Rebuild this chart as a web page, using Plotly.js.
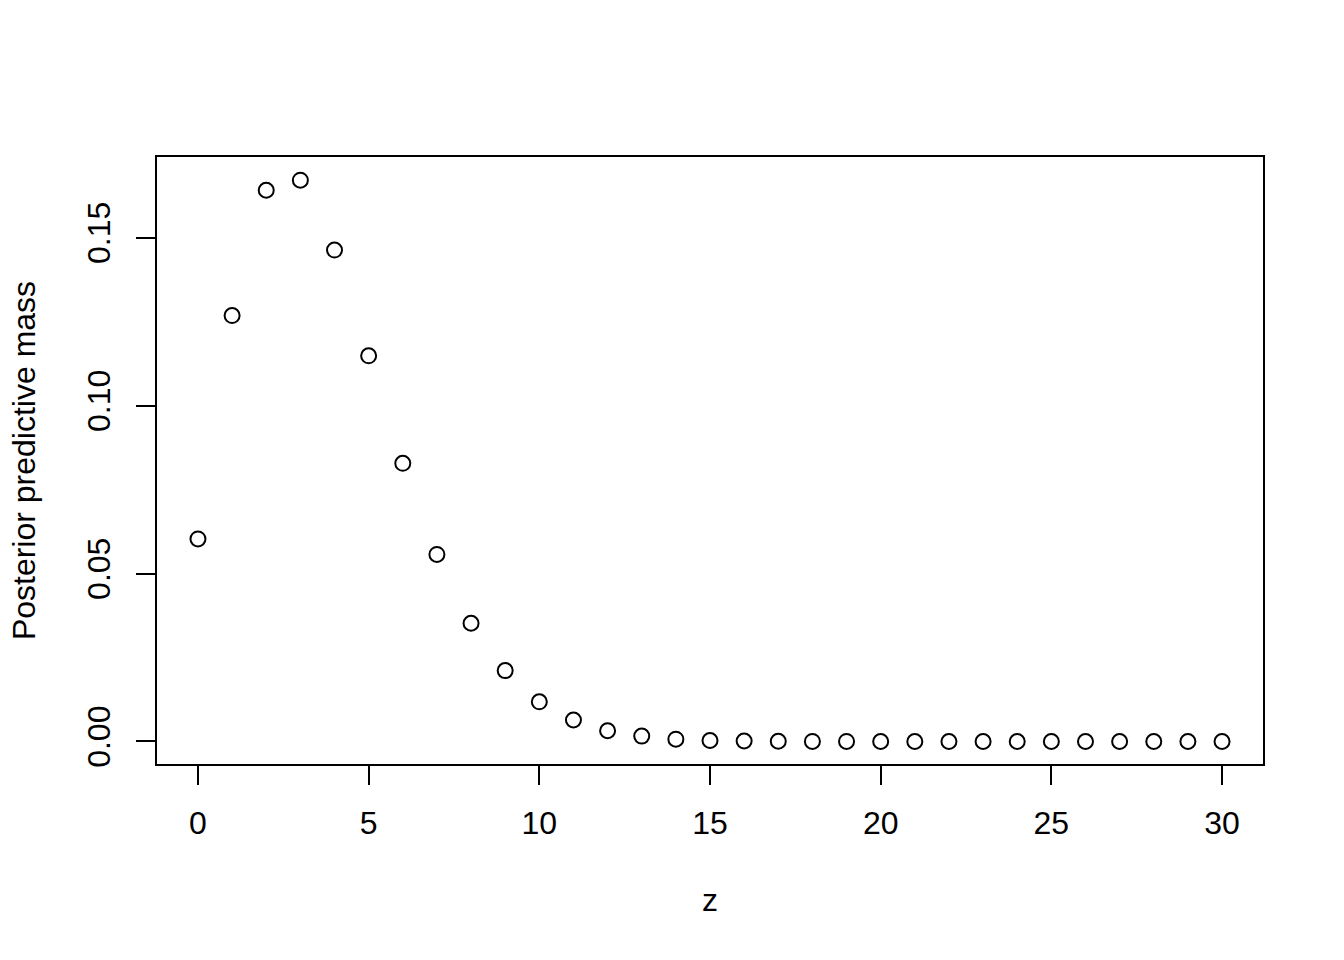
<!DOCTYPE html>
<html>
<head>
<meta charset="utf-8">
<script src="https://cdn.plot.ly/plotly-3.0.1.min.js"></script>
<style>
  html, body { margin: 0; padding: 0; background: #fff; }
  #plot { width: 1344px; height: 960px; }
</style>
</head>
<body>
<div id="plot"></div>
<script>
// values
const z = [0, 1, 2, 3, 4, 5, 6, 7, 8, 9, 10, 11, 12, 13, 14, 15,
           16, 17, 18, 19, 20, 21, 22, 23, 24, 25, 26, 27, 28, 29, 30];
const mass = [0.0603, 0.1268, 0.1641, 0.1671, 0.1463, 0.1148, 0.0828, 0.0557,
              0.0352, 0.0211, 0.0118, 0.0064, 0.0032, 0.0016, 0.0007, 0.0003,
              0.00015, 0.00007, 0.00003, 0.00001, 0.000005, 0.000002, 0.000001, 0, 0,
              0, 0, 0, 0, 0, 0];
const xTicks = [0, 5, 10, 15, 20, 25, 30];
const yTicks = [0, 0.05, 0.10, 0.15];

const font = {family: 'Liberation Sans, Arial, sans-serif', size: 32, color: '#000'};

Plotly.newPlot('plot', [{
  x: z, y: mass, type: 'scatter', mode: 'markers',
  marker: {symbol: 'circle-open', size: 15, color: '#000', line: {width: 2, color: '#000'}}
}], {
  width: 1344, height: 960,
  margin: {l: 157, r: 81, t: 157, b: 196},
  paper_bgcolor: '#fff', plot_bgcolor: '#fff',
  font: font,
  showlegend: false,
  xaxis: {
    range: [-1.2, 31.2], tickvals: xTicks, ticktext: xTicks.map(String),
    showgrid: false, zeroline: false,
    showline: true, mirror: true, linecolor: '#000', linewidth: 2,
    ticks: 'outside', ticklen: 19, tickwidth: 2, tickcolor: '#000',
    ticklabelstandoff: 11,
    title: {text: 'z', font: font, standoff: 48}
  },
  yaxis: {
    range: [-0.0067, 0.1740], tickvals: yTicks, ticktext: yTicks.map(v => v.toFixed(2)),
    tickangle: -90,
    showgrid: false, zeroline: false,
    showline: true, mirror: true, linecolor: '#000', linewidth: 2,
    ticks: 'outside', ticklen: 19, tickwidth: 2, tickcolor: '#000',
    ticklabelstandoff: 13,
    title: {text: 'Posterior predictive mass', font: font, standoff: 36}
  }
}, {displayModeBar: false, staticPlot: true});
</script>
</body>
</html>
